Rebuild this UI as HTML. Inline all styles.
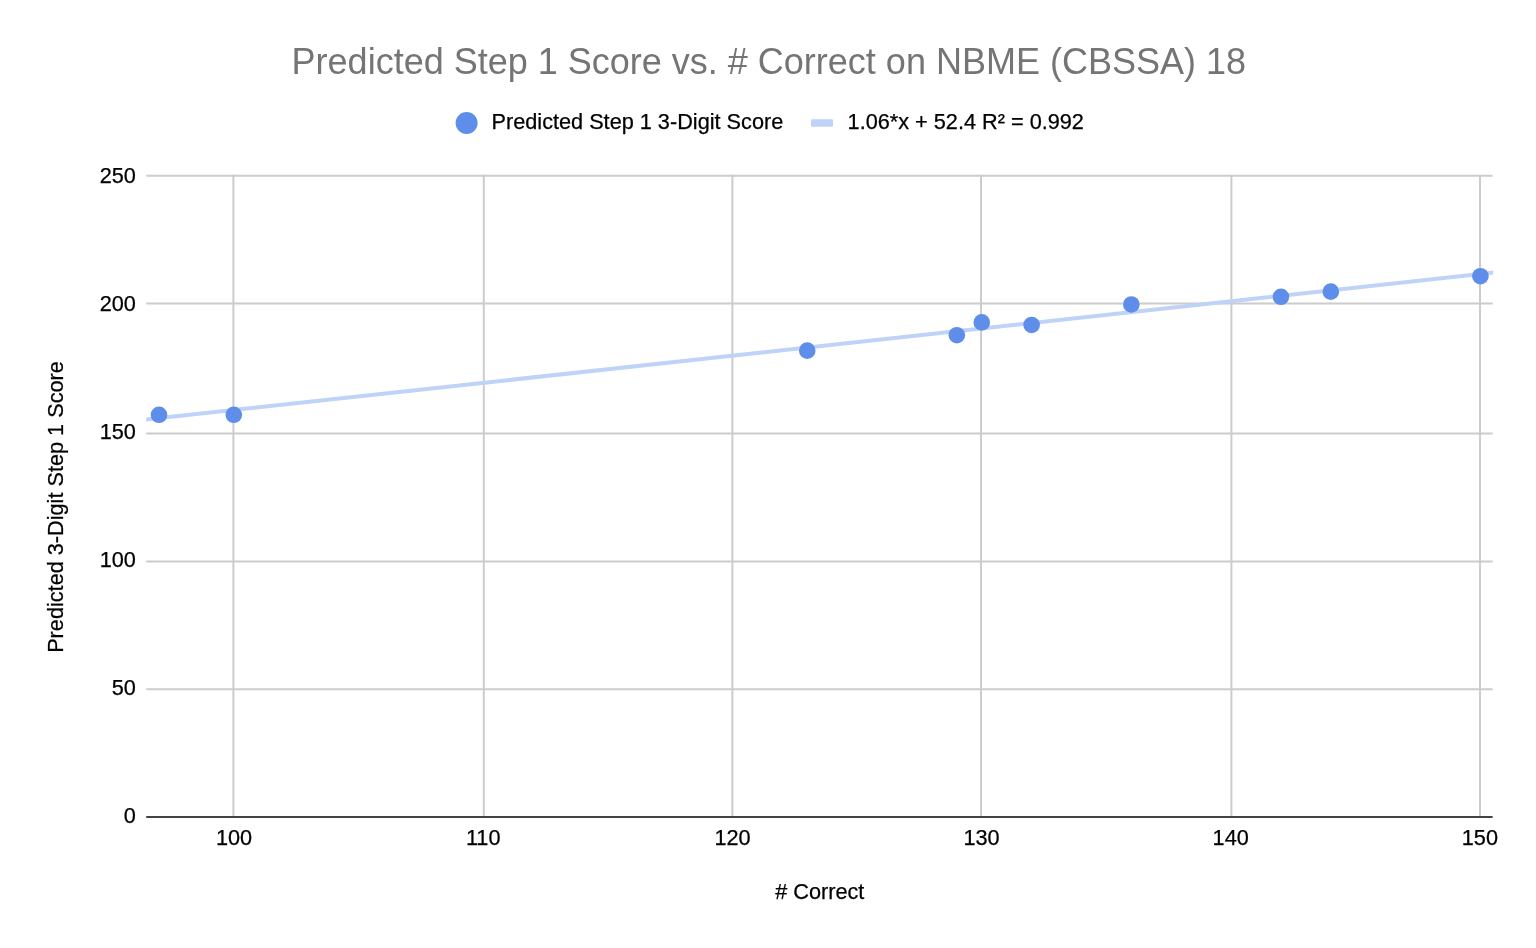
<!DOCTYPE html>
<html><head><meta charset="utf-8"><title>Predicted Step 1 Score vs. # Correct on NBME (CBSSA) 18</title><style>
html,body{margin:0;padding:0;background:#fff;width:1536px;height:948px;overflow:hidden}
svg{display:block;will-change:transform}
text{font-family:"Liberation Sans", sans-serif}
</style></head><body>
<svg width="1536" height="948" viewBox="0 0 1536 948">
<rect width="1536" height="948" fill="#ffffff"/>
<text x="768.8" y="74.0" font-size="36" fill="#757575" text-anchor="middle">Predicted Step 1 Score vs. # Correct on NBME (CBSSA) 18</text>
<circle cx="466.6" cy="123" r="11" fill="#5f8eea"/>
<text transform="translate(491.50,129.20) scale(1.0,1.0)" font-size="21.7" fill="#000" stroke="#000" stroke-width="0.25">Predicted Step 1 3-Digit Score</text>
<rect x="811" y="119.2" width="22" height="7.6" rx="1.2" fill="#bfd2f7"/>
<text transform="translate(847.60,129.20) scale(1.0,1.0)" font-size="21.7" fill="#000" stroke="#000" stroke-width="0.25">1.06*x + 52.4 R² = 0.992</text>
<line x1="146.2" x2="1492.6" y1="175.7" y2="175.7" stroke="#cccccc" stroke-width="2"/>
<line x1="146.2" x2="1492.6" y1="303.6" y2="303.6" stroke="#cccccc" stroke-width="2"/>
<line x1="146.2" x2="1492.6" y1="433.4" y2="433.4" stroke="#cccccc" stroke-width="2"/>
<line x1="146.2" x2="1492.6" y1="561.6" y2="561.6" stroke="#cccccc" stroke-width="2"/>
<line x1="146.2" x2="1492.6" y1="689.3" y2="689.3" stroke="#cccccc" stroke-width="2"/>
<line x1="233.4" x2="233.4" y1="174.7" y2="817.0" stroke="#cccccc" stroke-width="2"/>
<line x1="483.8" x2="483.8" y1="174.7" y2="817.0" stroke="#cccccc" stroke-width="2"/>
<line x1="732.4" x2="732.4" y1="174.7" y2="817.0" stroke="#cccccc" stroke-width="2"/>
<line x1="981.0" x2="981.0" y1="174.7" y2="817.0" stroke="#cccccc" stroke-width="2"/>
<line x1="1231.4" x2="1231.4" y1="174.7" y2="817.0" stroke="#cccccc" stroke-width="2"/>
<line x1="1480.0" x2="1480.0" y1="174.7" y2="817.0" stroke="#cccccc" stroke-width="2"/>
<line x1="146.2" x2="1492.6" y1="817.0" y2="817.0" stroke="#444444" stroke-width="2.2"/>
<text transform="translate(135.90,823.35) scale(1.0,1.0)" font-size="21.7" fill="#000" stroke="#000" stroke-width="0.25" text-anchor="end">0</text>
<text transform="translate(135.90,695.31) scale(1.0,1.0)" font-size="21.7" fill="#000" stroke="#000" stroke-width="0.25" text-anchor="end">50</text>
<text transform="translate(135.90,567.27) scale(1.0,1.0)" font-size="21.7" fill="#000" stroke="#000" stroke-width="0.25" text-anchor="end">100</text>
<text transform="translate(135.90,439.23) scale(1.0,1.0)" font-size="21.7" fill="#000" stroke="#000" stroke-width="0.25" text-anchor="end">150</text>
<text transform="translate(135.90,311.19) scale(1.0,1.0)" font-size="21.7" fill="#000" stroke="#000" stroke-width="0.25" text-anchor="end">200</text>
<text transform="translate(135.90,183.15) scale(1.0,1.0)" font-size="21.7" fill="#000" stroke="#000" stroke-width="0.25" text-anchor="end">250</text>
<text transform="translate(234.07,844.60) scale(1.0,1.0)" font-size="21.7" fill="#000" stroke="#000" stroke-width="0.25" text-anchor="middle">100</text>
<text transform="translate(483.17,844.60) scale(1.0,1.0)" font-size="21.7" fill="#000" stroke="#000" stroke-width="0.25" text-anchor="middle">110</text>
<text transform="translate(732.47,844.60) scale(1.0,1.0)" font-size="21.7" fill="#000" stroke="#000" stroke-width="0.25" text-anchor="middle">120</text>
<text transform="translate(981.47,844.60) scale(1.0,1.0)" font-size="21.7" fill="#000" stroke="#000" stroke-width="0.25" text-anchor="middle">130</text>
<text transform="translate(1230.67,844.60) scale(1.0,1.0)" font-size="21.7" fill="#000" stroke="#000" stroke-width="0.25" text-anchor="middle">140</text>
<text transform="translate(1479.87,844.60) scale(1.0,1.0)" font-size="21.7" fill="#000" stroke="#000" stroke-width="0.25" text-anchor="middle">150</text>
<text transform="translate(819.80,898.80) scale(1.0,1.0)" font-size="21.7" fill="#000" stroke="#000" stroke-width="0.25" text-anchor="middle"># Correct</text>
<text transform="translate(63.40,507.00) rotate(-90) scale(1.0,1.0)" font-size="21.7" fill="#000" stroke="#000" stroke-width="0.25" text-anchor="middle">Predicted 3-Digit Step 1 Score</text>
<clipPath id="c"><rect x="146.2" y="150" width="1346.9999999999998" height="680"/></clipPath>
<line clip-path="url(#c)" x1="143.2" y1="419.91" x2="1495.6" y2="272.42" stroke="#bfd2f7" stroke-width="4"/>
<circle cx="159.00" cy="414.76" r="8.3" fill="#5f8eea"/>
<circle cx="233.80" cy="414.76" r="8.3" fill="#5f8eea"/>
<circle cx="807.24" cy="350.63" r="8.3" fill="#5f8eea"/>
<circle cx="956.83" cy="335.24" r="8.3" fill="#5f8eea"/>
<circle cx="981.76" cy="322.42" r="8.3" fill="#5f8eea"/>
<circle cx="1031.62" cy="324.98" r="8.3" fill="#5f8eea"/>
<circle cx="1131.35" cy="304.46" r="8.3" fill="#5f8eea"/>
<circle cx="1280.94" cy="296.76" r="8.3" fill="#5f8eea"/>
<circle cx="1330.81" cy="291.63" r="8.3" fill="#5f8eea"/>
<circle cx="1480.40" cy="276.24" r="8.3" fill="#5f8eea"/>
</svg></body></html>
